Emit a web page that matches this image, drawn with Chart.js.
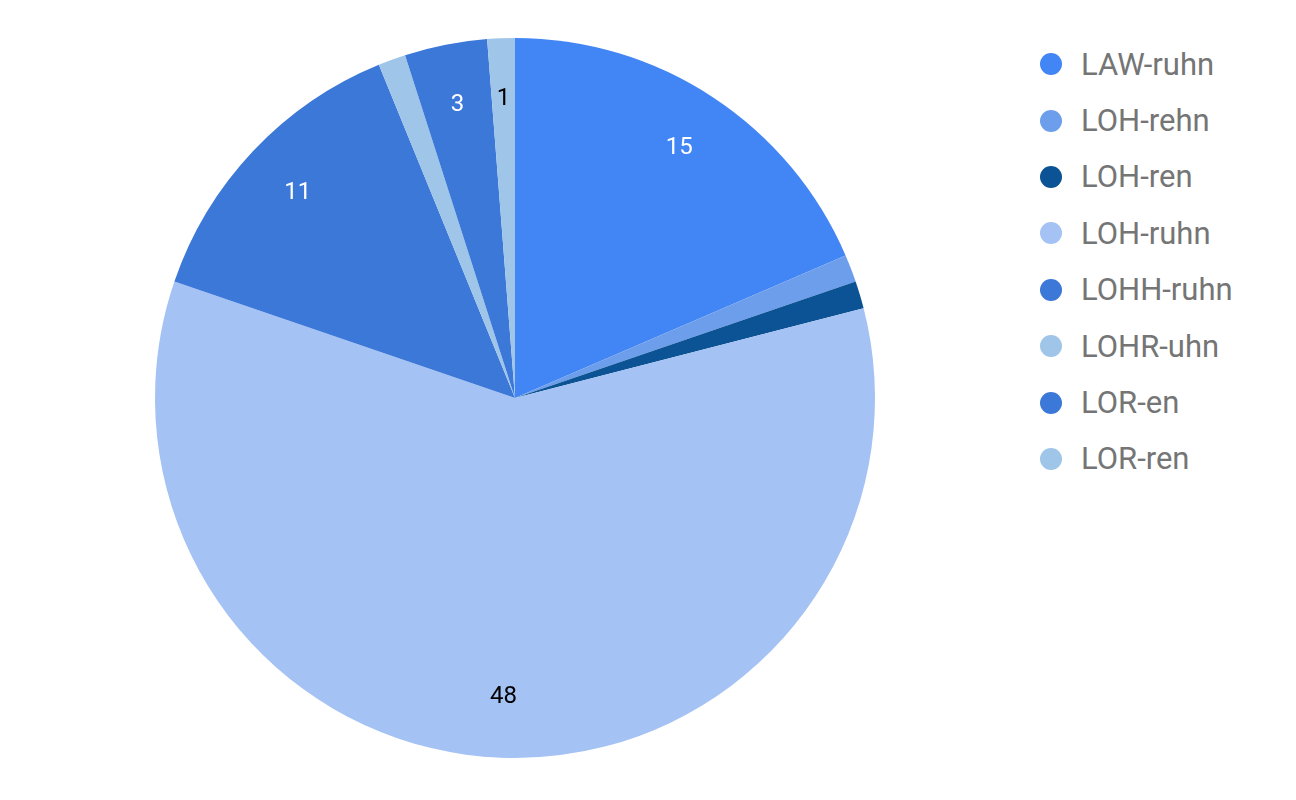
<!DOCTYPE html>
<html>
<head>
<meta charset="utf-8">
<script src="https://cdn.jsdelivr.net/npm/chart.js@4"></script>
<style>
  body { margin: 0; background: #fff; font-family: Roboto, sans-serif; }
  #wrap { position: absolute; left: 0; top: 0; width: 1030px; height: 800px; }
  #legend { position: absolute; left: 1040px; top: 36px; list-style: none; margin: 0; padding: 0; }
  #legend li { height: 56.4px; display: flex; align-items: center; font-size: 31px; color: #757575; }
  #legend span { width: 22px; height: 22px; border-radius: 50%; display: inline-block; margin-right: 19px; }
</style>
</head>
<body>
<div id="wrap"><canvas id="pie"></canvas></div>
<ul id="legend"></ul>
<script>
const categories = ['LAW-ruhn', 'LOH-rehn', 'LOH-ren', 'LOH-ruhn', 'LOHH-ruhn', 'LOHR-uhn', 'LOR-en', 'LOR-ren']
const counts = [15, 1, 1, 48, 11, 1, 3, 1]
const colors = ['#4285f4', '#6d9eeb', '#0b5394', '#a4c2f4', '#3c78d8', '#9fc5e8', '#3c78d8', '#9fc5e8']
const labelColors = ['#fff', null, null, '#000', '#fff', null, '#fff', '#000']

const legend = document.getElementById('legend')
categories.forEach((c, i) => {
  legend.innerHTML += '<li><span style="background:' + colors[i] + '"></span>' + c + '</li>'
})

// draw values inside slices
const sliceLabels = {
  id: 'sliceLabels',
  afterDatasetsDraw(chart) {
    const ctx = chart.ctx
    chart.getDatasetMeta(0).data.forEach((arc, i) => {
      if (!labelColors[i]) return
      const mid = (arc.startAngle + arc.endAngle) / 2
      const r = arc.outerRadius * 0.83
      ctx.save()
      ctx.font = '24px Roboto'
      ctx.fillStyle = labelColors[i]
      ctx.textAlign = 'center'
      ctx.textBaseline = 'middle'
      ctx.fillText(counts[i], arc.x + Math.cos(mid) * r, arc.y + Math.sin(mid) * r)
      ctx.restore()
    })
  }
}

new Chart(document.getElementById('pie'), {
  type: 'pie',
  data: {
    labels: categories,
    datasets: [{ data: counts, backgroundColor: colors, borderWidth: 0 }]
  },
  options: {
    responsive: true,
    maintainAspectRatio: false,
    animation: false,
    layout: { padding: { top: 38, bottom: 42 } },
    plugins: { legend: { display: false }, tooltip: { enabled: false } }
  },
  plugins: [sliceLabels]
})
</script>
</body>
</html>
